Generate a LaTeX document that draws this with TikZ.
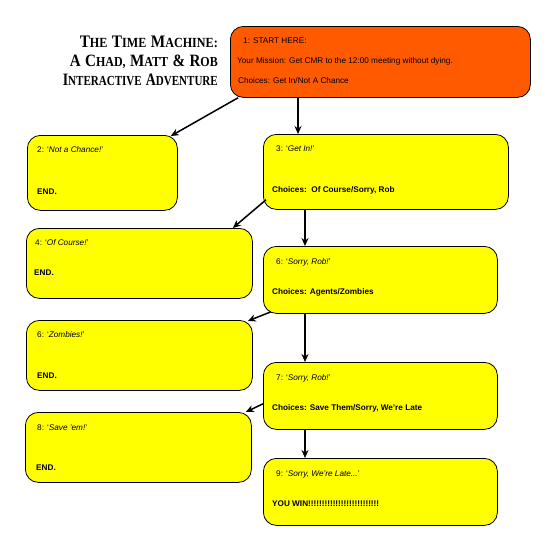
\documentclass[tikz,border=0pt]{standalone}
\usepackage{fontspec}
\usepackage{graphicx}
\setmainfont{Liberation Sans}
\newfontfamily\titlefont{Liberation Serif}
\usetikzlibrary{arrows.meta}
\definecolor{startorange}{RGB}{255,90,0}
\definecolor{boxyellow}{RGB}{255,255,0}
\newcommand\tcap[1]{{\fontsize{17}{17}\selectfont #1}}
\newcommand\tsml[1]{{\fontsize{13.5}{14}\selectfont #1}}
\newcommand\tsp{\hspace{5pt}}
\tikzset{
  box/.style={draw=black, line width=0.8pt, rounded corners=13pt, anchor=north west, inner sep=0pt},
  txt/.style={anchor=base west, inner sep=0pt, font=\fontsize{8.2}{8}\selectfont},
  btxt/.style={txt, font=\fontsize{8.2}{8}\selectfont\bfseries},
  ttl/.style={anchor=base east, inner sep=0pt, font=\titlefont\bfseries},
  arr/.style={line width=1.5pt, -{Stealth[length=8pt,width=7pt]}},
}
\begin{document}
\begin{tikzpicture}[x=1pt,y=-1pt]
\useasboundingbox (0,0) rectangle (549,541);
% title
\node[ttl] (title1) at (218,47) {\resizebox{138pt}{11.5pt}{\tcap{T}\tsml{HE}\tsp\tcap{T}\tsml{IME}\tsp\tcap{M}\tsml{ACHINE:}}};
\node[ttl] (title2) at (218,66) {\resizebox{148pt}{11.5pt}{\tcap{A}\tsp\tcap{C}\tsml{HAD,}\tsp\tcap{M}\tsml{ATT}\tsp\tcap{\&}\tsp\tcap{R}\tsml{OB}}};
\node[ttl] (title3) at (218,85) {\resizebox{155pt}{11.5pt}{\tcap{I}\tsml{NTERACTIVE}\tsp\tcap{A}\tsml{DVENTURE}}};
% boxes
\node[box, fill=startorange, minimum width=300pt, minimum height=71pt] (b1) at (230,26) {};
\node[box, fill=boxyellow, minimum width=150pt, minimum height=75pt] (b2) at (27,135) {};
\node[box, fill=boxyellow, minimum width=245pt, minimum height=75pt] (b3) at (263,134) {};
\node[box, fill=boxyellow, minimum width=226pt, minimum height=70pt] (b4) at (26,228) {};
\node[box, fill=boxyellow, minimum width=234pt, minimum height=67pt] (b5) at (263,246) {};
\node[box, fill=boxyellow, minimum width=226pt, minimum height=70pt] (b6) at (26,320) {};
\node[box, fill=boxyellow, minimum width=234pt, minimum height=67pt] (b7) at (263,362) {};
\node[box, fill=boxyellow, minimum width=226pt, minimum height=70pt] (b8) at (25,412) {};
\node[box, fill=boxyellow, minimum width=234pt, minimum height=67pt] (b9) at (263,458) {};
% texts
\node[txt] (t1a) at (243,43.5) {1: START HERE:};
\node[txt] (t1b) at (237,63.5) {Your Mission: Get CMR to the 12:00 meeting without dying.};
\node[txt] (t1c) at (238,83.5) {Choices: Get In/Not A Chance};
\node[txt] (t2a) at (37,152) {2: `\textit{Not a Chance!}'};
\node[btxt] (t2b) at (37,194) {END.};
\node[txt] (t3a) at (276,151) {3: `\textit{Get In!}'};
\node[btxt] (t3b) at (272,192) {Choices:\ \ Of Course/Sorry, Rob};
\node[txt] (t4a) at (35,245) {4: `\textit{Of Course!}'};
\node[btxt] (t4b) at (34,275) {END.};
\node[txt] (t5a) at (276,264) {6: `\textit{Sorry, Rob!}'};
\node[btxt] (t5b) at (272,294) {Choices: Agents/Zombies};
\node[txt] (t6a) at (37,337) {6: `\textit{Zombies!}'};
\node[btxt] (t6b) at (37,378) {END.};
\node[txt] (t7a) at (276,380) {7: `\textit{Sorry, Rob!}'};
\node[btxt] (t7b) at (272,410) {Choices: Save Them/Sorry, We're Late};
\node[txt] (t8a) at (37,430) {8: `\textit{Save 'em!}'};
\node[btxt] (t8b) at (36,470) {END.};
\node[txt] (t9a) at (276,476) {9: `\textit{Sorry, We're Late...}'};
\node[btxt] (t9b) at (272,506) {YOU WIN!!!!!!!!!!!!!!!!!!!!!!!!!!};
% arrows
\draw[arr] ([xshift=8pt]b1.south west) -- ([xshift=-7pt,yshift=-1pt]b2.north east);
\draw[arr] ([xshift=68pt]b1.south west) -- ([xshift=35pt]b3.north west);
\draw[arr] ([xshift=3pt,yshift=10pt]b3.south west) -- ([xshift=-20pt]b4.north east);
\draw[arr] ([xshift=42pt]b3.south west) -- ([xshift=42pt]b5.north west);
\draw[arr] ([xshift=8pt,yshift=2pt]b5.south west) -- ([xshift=-5pt,yshift=-1pt]b6.north east);
\draw[arr] ([xshift=42pt]b5.south west) -- ([xshift=42pt]b7.north west);
\draw[arr] ([yshift=26pt]b7.south west) -- ([xshift=-6pt]b8.north east);
\draw[arr] ([xshift=42pt]b7.south west) -- ([xshift=42pt]b9.north west);
\end{tikzpicture}
\end{document}
